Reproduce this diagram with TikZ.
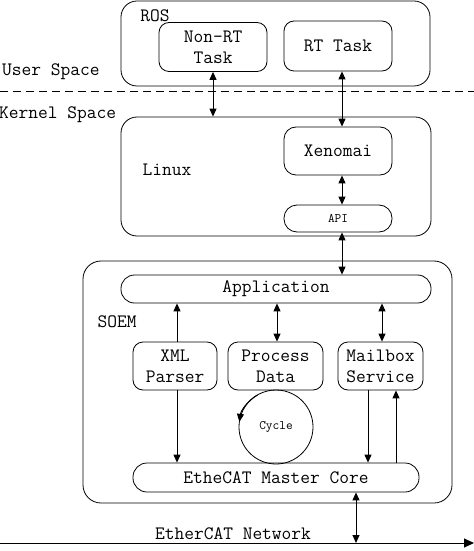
\documentclass[tikz,border=0pt]{standalone}
\usetikzlibrary{arrows.meta}

\tikzset{
  box/.style={draw, line width=0.8bp, rounded corners=#1, inner sep=0pt, align=center},
  box/.default=10bp,
  lbl/.style={inner sep=0pt, align=center},
  small/.style={font=\ttfamily\fontsize{13}{15}\selectfont},
  link/.style={line width=1bp, {Triangle[length=8bp,width=7bp]}-{Triangle[length=8bp,width=7bp]}},
  uplink/.style={line width=1bp, -{Triangle[length=8bp,width=7bp]}},
}

\begin{document}
\begin{tikzpicture}[x=1bp, y=1bp, font=\ttfamily\fontsize{19}{21}\selectfont]
        \useasboundingbox (0,0) rectangle (474,-551);

        % ROS
        \node[box=16bp, minimum width=309bp, minimum height=85bp] (ros) at (275.5,-43.5) {};
        \node[lbl] (roslbl) at (155,-15.5) {ROS};
        \node[box, minimum width=108bp, minimum height=49bp] (nonrt) at (213,-47) {Non-RT\\Task};
        \node[box, minimum width=108bp, minimum height=50bp] (rt) at (338,-46) {RT Task};

        % User / Kernel
        \node[lbl, anchor=west] (user) at (2,-72) {User Space};
        \node[lbl, anchor=west] (kernel) at (-1,-115) {Kernel Space};
        \draw[line width=0.8bp, dash pattern=on 8bp off 5bp] (0,-91) -- (474,-91);

        % Linux
        \node[box=16bp, minimum width=310bp, minimum height=119bp] (linux) at (276,-176.5) {};
        \node[lbl] (linuxlbl) at (167,-170) {Linux};
        \node[box=12bp, minimum width=108bp, minimum height=48bp] (xeno) at (338,-151) {Xenomai};
        \node[box=13bp, small, minimum width=108bp, minimum height=27bp] (api) at (338,-218.5) {API};

        % SOEM
        \node[box=18bp, minimum width=369bp, minimum height=242bp] (soem) at (267.5,-382) {};
        \node[lbl] (soemlbl) at (117,-322) {SOEM};
        \node[box=13.5bp, minimum width=310bp, minimum height=28bp] (app) at (276,-289) {Application};
        \node[box, minimum width=84bp, minimum height=48bp] (xml) at (175,-366) {XML\\Parser};
        \node[box, minimum width=95bp, minimum height=48bp] (proc) at (275.5,-366) {Process\\Data};
        \node[box, minimum width=85bp, minimum height=48bp] (mail) at (380.5,-366) {Mailbox\\Service};
        \node[draw, circle, small, line width=0.8bp, minimum size=74bp, inner sep=0pt] (cyc) at (276,-427) {Cycle};
        \node[box=14bp, minimum width=286bp, minimum height=29bp] (core) at (276,-477.5) {EtheCAT Master Core};

        % Network
        \node[lbl] (netlbl) at (233,-534) {EtherCAT Network};
        \coordinate (netL) at (0,-543);
        \coordinate (netR) at (474,-543);
        \draw[line width=1bp, -{Triangle[length=10bp,width=9bp]}] (netL) -- (netR);

        % Pfeile
        \draw[link] (nonrt.south) -- (nonrt.south |- linux.north);
        \draw[link] ([xshift=4bp]rt.south) -- ([xshift=4bp]rt.south |- xeno.north);
        \draw[link] ([xshift=4bp]xeno.south) -- ([xshift=4bp]xeno.south |- api.north);
        \draw[link] ([xshift=4bp]api.south) -- ([xshift=4bp]api.south |- app.north);
        \draw[uplink] ([xshift=2bp]xml.north) -- ([xshift=2bp]xml.north |- app.south);
        \draw[link] ([xshift=1.5bp]proc.north) -- ([xshift=1.5bp]proc.north |- app.south);
        \draw[link] ([xshift=1.5bp]mail.north) -- ([xshift=1.5bp]mail.north |- app.south);
        \draw[uplink] ([xshift=2bp]xml.south) -- ([xshift=2bp]xml.south |- core.north);
        \draw[uplink] ([xshift=-12.5bp]mail.south) -- ([xshift=-12.5bp]mail.south |- core.north);
        \draw[uplink] ([xshift=15.5bp]mail.south |- core.north) -- ([xshift=15.5bp]mail.south);
        \draw[link] ([xshift=80bp]core.south) -- ([xshift=80bp]core.south |- netR);

        % Zyklus
        \draw[uplink] ([shift={(120:37bp)}]cyc.center) arc[start angle=120, end angle=172, radius=37bp];
\end{tikzpicture}
\end{document}
